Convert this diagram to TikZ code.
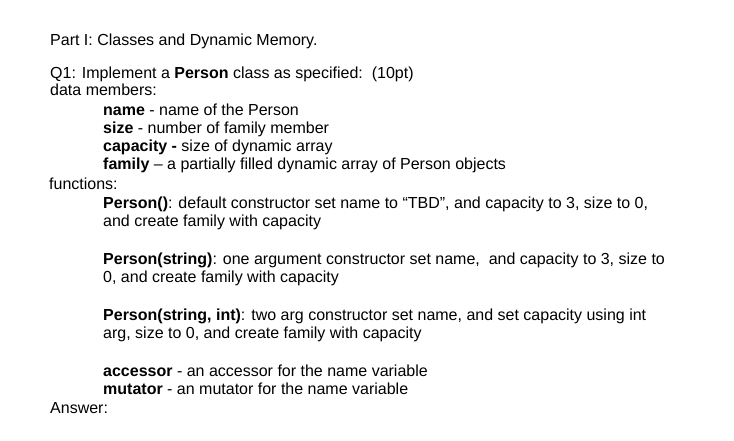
\documentclass[tikz,border=0pt]{standalone}
\usepackage{fontspec}
\setmainfont{Liberation Sans}
\begin{document}
\begin{tikzpicture}[x=1pt,y=-1pt,t/.style={anchor=base west,inner sep=0pt,font=\fontsize{16}{18}\selectfont}]
\useasboundingbox (0,0) rectangle (734,440);
\node[t] (l1) at (50,45) {Part I: Classes and Dynamic Memory.};
\node[t] (l2) at (50,78) {Q1: Implement a \textbf{Person} class as specified:\ \ (10pt)};
\node[t] (l3) at (50,95) {data members:};
\node[t] (l4) at (103,115) {\textbf{name} - name of the Person};
\node[t] (l5) at (103,133) {\textbf{size} - number of family member};
\node[t] (l6) at (103,151) {\textbf{capacity -} size of dynamic array};
\node[t] (l7) at (103,169) {\textbf{family} -- a partially filled dynamic array of Person objects};
\node[t] (l8) at (49,189) {functions:};
\node[t] (l9) at (103,208) {\textbf{Person()}: default constructor set name to “TBD”, and capacity to 3, size to 0,};
\node[t] (l10) at (103,226) {and create family with capacity};
\node[t] (l11) at (103,264) {\textbf{Person(string)}: one argument constructor set name,\ \ and capacity to 3, size to};
\node[t] (l12) at (103,282) {0, and create family with capacity};
\node[t] (l13) at (103,320) {\textbf{Person(string, int)}: two arg constructor set name, and set capacity using int};
\node[t] (l14) at (103,338) {arg, size to 0, and create family with capacity};
\node[t] (l15) at (103,376) {\textbf{accessor} - an accessor for the name variable};
\node[t] (l16) at (103,394) {\textbf{mutator} - an mutator for the name variable};
\node[t] (l17) at (50,413) {Answer:};
\end{tikzpicture}
\end{document}
